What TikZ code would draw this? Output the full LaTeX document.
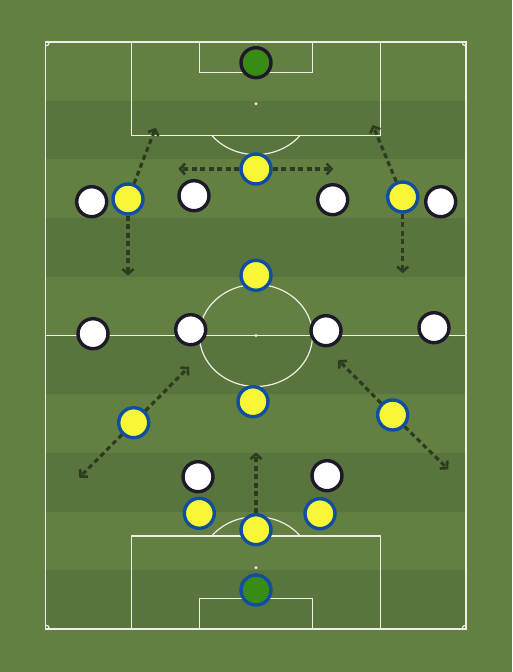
\documentclass[tikz,border=0pt]{standalone}
\usepackage{tikz}
\usetikzlibrary{positioning,arrows.meta,shadows}

\definecolor{grass}{RGB}{99,128,66}
\definecolor{stripe}{RGB}{90,116,62}
\definecolor{chalk}{RGB}{236,240,230}
\definecolor{shirt}{RGB}{247,247,56}
\definecolor{trim}{RGB}{16,78,160}
\definecolor{ink}{RGB}{28,26,40}
\definecolor{keeper}{RGB}{58,138,22}
\definecolor{run}{RGB}{44,60,32}

\tikzset{
  player/.style={circle, minimum size=30pt, inner sep=0pt, line width=3.4pt,
    drop shadow={shadow xshift=0.6pt, shadow yshift=-0.8pt, opacity=0.25}},
  home/.style={player, fill=shirt, draw=trim},
  away/.style={player, fill=white, draw=ink},
  move/.style={run, line width=3.2pt, dash pattern=on 5pt off 3.5pt,
    -{Straight Barb[length=5pt,width=11pt,line width=2.6pt]}}
}

\begin{document}
\begin{tikzpicture}[x=1pt,y=-1pt]
    \useasboundingbox (0,0) rectangle (512,672);
    %%%%% THE PITCH
    \fill[grass] (0,0) rectangle (512,672);
    \foreach \y in {100.7,218.1,335.5,452.9,570.3}
      \fill[stripe] (45.5,\y) rectangle (466,\y+58.7);
    \begin{scope}[chalk, line width=1.2pt]
      \draw (45.5,42) rectangle (466,629);
      \draw (45.5,335.5) -- (466,335.5);
      \draw (256,335.5) ellipse [x radius=56.5, y radius=51];
      % boxes at the top end
      \draw (131.3,42) rectangle (380.7,135.3);
      \draw (199.3,42) rectangle (312.3,72.7);
      \draw (211.7,135.3) arc [start angle=141.6, end angle=38.4, x radius=56.5, y radius=51];
      % boxes at the bottom end
      \draw (131.3,629) rectangle (380.7,536);
      \draw (199.3,629) rectangle (312.3,598.3);
      \draw (211.7,536) arc [start angle=-141.6, end angle=-38.4, x radius=56.5, y radius=51];
      % corners
      \draw (49.5,42) arc [start angle=0, end angle=90, radius=4];
      \draw (462,42) arc [start angle=180, end angle=90, radius=4];
      \draw (49.5,629) arc [start angle=0, end angle=-90, radius=4];
      \draw (462,629) arc [start angle=180, end angle=270, radius=4];
      % spots
      \fill (256,103.7) circle (1.6);
      \fill (256,335.5) circle (1.6);
      \fill (256,567.7) circle (1.6);
    \end{scope}
    %%%%% THE WHITE TEAM
    \node[away, fill=keeper] (WGK) at (256,62.7) {};
    \node[away] (WLB) at (91.7,201.7) {};
    \node[away] (WLCB) at (194,195.7) {};
    \node[away] (WRCB) at (332.7,199.7) {};
    \node[away] (WRB) at (440.7,201.7) {};
    \node[away] (WLM) at (93,333.7) {};
    \node[away] (WLCM) at (190.7,329.7) {};
    \node[away] (WRCM) at (326,330.7) {};
    \node[away] (WRM) at (434,327.7) {};
    \node[away] (WLF) at (198,476.7) {};
    \node[away] (WRF) at (327,475.7) {};
    %%%%% THE YELLOW TEAM
    \node[home, fill=keeper] (YGK) at (256,590) {};
    \node[home] (YLCB) at (199.3,513.3) {};
    \node[home] (YCB) at (256,529.7) {};
    \node[home] (YRCB) at (320,513.7) {};
    \node[home] (YLM) at (133.7,422.7) {};
    \node[home] (YDM) at (253,401.7) {};
    \node[home] (YRM) at (392.7,415) {};
    \node[home] (YAM) at (256,275.3) {};
    \node[home] (YLW) at (128,199) {};
    \node[home] (YCF) at (256,169) {};
    \node[home] (YRW) at (402.7,197) {};
    %%%% THE RUNS
    \coordinate (LWUP) at (155.7,127.7);
    \coordinate (LWDN) at (128,275.7);
    \coordinate (CFL) at (178.3,169);
    \coordinate (CFR) at (333.3,169);
    \coordinate (RWUP) at (372.7,125);
    \coordinate (RWDN) at (402.7,273.3);
    \coordinate (LMUP) at (189,366.7);
    \coordinate (LMDN) at (79.3,477.7);
    \coordinate (RMUP) at (338.3,360);
    \coordinate (RMDN) at (448.3,469.3);
    \coordinate (CBUP) at (256,452.3);
    \draw[move] (YLW) -- (LWUP);
    \draw[move] (YLW) -- (LWDN);
    \draw[move] (YCF) -- (CFL);
    \draw[move] (YCF) -- (CFR);
    \draw[move] (YRW) -- (RWUP);
    \draw[move] (YRW) -- (RWDN);
    \draw[move] (YLM) -- (LMUP);
    \draw[move] (YLM) -- (LMDN);
    \draw[move] (YRM) -- (RMUP);
    \draw[move] (YRM) -- (RMDN);
    \draw[move] (YCB) -- (CBUP);
\end{tikzpicture}
\end{document}
